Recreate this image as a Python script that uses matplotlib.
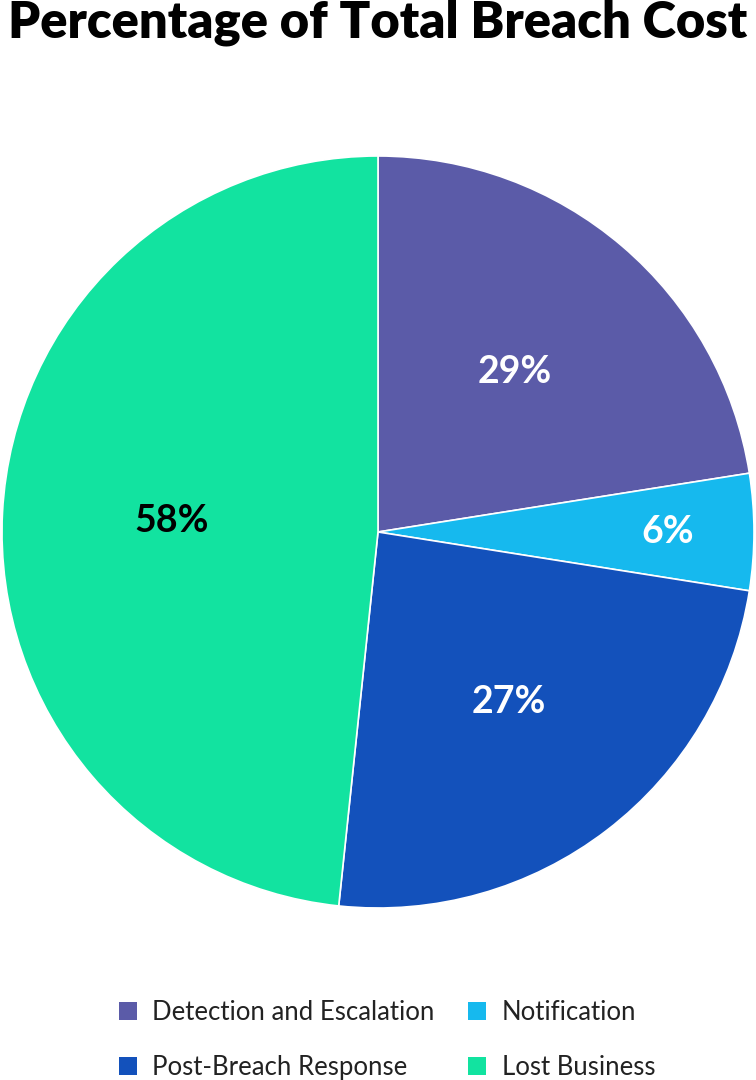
import numpy as np
import matplotlib
matplotlib.use('Agg')
import matplotlib.pyplot as plt
from matplotlib.patches import Patch

# categories, wedge sizes (as drawn) and the labels printed on the chart
categories = ['Detection and Escalation', 'Notification', 'Post-Breach Response', 'Lost Business']
shares = [27, 6, 29, 58]
pct_labels = ['29%', '6%', '27%', '58%']
colors = ['#5B5BA8', '#16B9EE', '#1351BB', '#12E3A0']
label_colors = ['white', 'white', 'white', 'black']
label_radius = [0.56, 0.77, 0.57, 0.55]

plt.rcParams['font.family'] = ['Lato', 'DejaVu Sans']

fig = plt.figure(figsize=(7.56, 10.8), dpi=100)
ax = fig.add_axes([2/756, 172/1080, 752/756, 752/1080])

wedges, _ = ax.pie(shares, colors=colors, startangle=90, counterclock=False,
                   radius=1, wedgeprops=dict(edgecolor='white', linewidth=1.2))
ax.set_xlim(-1, 1)
ax.set_ylim(-1, 1)
ax.set_aspect('equal')
ax.axis('off')

#put percentage text at the middle angle of each wedge
for w, txt, c, r in zip(wedges, pct_labels, label_colors, label_radius):
    mid = np.deg2rad((w.theta1 + w.theta2) / 2)
    ax.text(r * np.cos(mid), r * np.sin(mid), txt, ha='center', va='center',
            color=c, fontsize=27, fontweight='bold')

fig.text(0.5, 1 - 23/1080, 'Percentage of Total Breach Cost', ha='center', va='center',
         fontsize=36.5, fontweight='heavy', color='black')

# legend fills column by column, so reorder to get rows Det/Notif and Post/Lost
order = [0, 2, 1, 3]
handles = [Patch(facecolor=colors[i], edgecolor='none') for i in order]
leg = fig.legend(handles, [categories[i] for i in order], ncol=2, loc='center',
                 bbox_to_anchor=(0.5 + 9/756, 1 - 1040/1080), frameon=False,
                 fontsize=18.5, handlelength=0.7, handleheight=0.7,
                 columnspacing=1.3, labelspacing=1.15, handletextpad=0.6,
                 borderpad=0.2)
for t in leg.get_texts():
    t.set_color('#222222')

fig.savefig('out.png', dpi=100)
